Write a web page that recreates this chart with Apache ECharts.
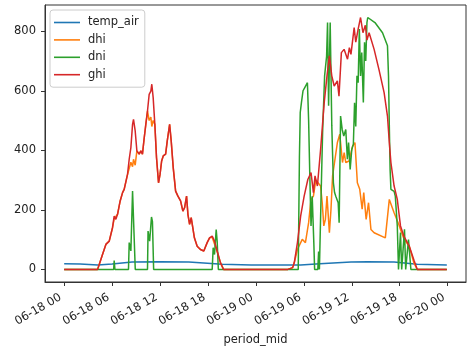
<!DOCTYPE html>
<html>
<head>
<meta charset="utf-8">
<script src="https://cdn.jsdelivr.net/npm/echarts@6/dist/echarts.min.js"></script>
<style>
html,body{margin:0;padding:0;background:#fff;}
#chart{width:474px;height:355px;}
</style>
</head>
<body>
<div id="chart"></div>
<script>
// hours since 06-18 00:00
const tickHours = [0, 6, 12, 18, 24, 30, 36, 42, 48];
const tickLabels = ["06-18 00","06-18 06","06-18 12","06-18 18","06-19 00","06-19 06","06-19 12","06-19 18","06-20 00"];
const yTicks = [0, 200, 400, 600, 800];
const seriesNames = ["temp_air", "dhi", "dni", "ghi"];

const tempAir = [[0,19],[2,18],[4.2,15],[6,18],[8.5,25],[12,26],[15.6,25],[19.8,17],[23.4,15],[27.7,15],[29.6,15],[32,19],[35.9,25],[38,26],[41.3,25],[44.2,17],[47.9,15]];

const ghi = [[0,0],[4.18,0],[4.3,6],[4.8,50],[5.22,84],[5.64,95],[6.05,140],[6.26,179],[6.47,168],[6.68,185],[7.01,230],[7.31,258],[7.51,269],[7.72,275],[7.93,319],[8.14,370],[8.35,409],[8.56,487],[8.68,504],[8.89,465],[9.1,398],[9.39,387],[9.6,398],[9.8,387],[10.0,437],[10.22,487],[10.43,532],[10.64,588],[10.85,599],[10.97,622],[11.14,577],[11.35,487],[11.56,375],[11.81,291],[12.0,319],[12.2,364],[12.4,381],[12.7,387],[12.9,431],[13.2,487],[13.4,431],[13.65,342],[13.95,263],[14.24,246],[14.57,230],[14.86,196],[15.07,207],[15.32,246],[15.49,185],[15.7,151],[15.9,174],[16.1,140],[16.3,106],[16.65,78],[17.06,67],[17.48,62],[17.9,90],[18.2,106],[18.53,112],[18.82,95],[19.15,62],[19.57,22],[19.95,0],[28.0,0],[28.6,6],[28.8,22],[29.2,90],[29.6,179],[30.04,246],[30.5,302],[30.9,325],[31.2,258],[31.4,314],[31.7,280],[32.1,403],[32.55,560],[32.9,650],[33.2,717],[33.5,650],[33.8,616],[34.2,633],[34.4,582],[34.7,728],[35.04,739],[35.47,706],[35.7,745],[35.9,722],[36.3,812],[36.5,763],[36.8,807],[37.1,846],[37.4,795],[37.7,820],[37.9,770],[38.17,795],[38.8,739],[39.4,672],[40.05,594],[40.47,515],[40.7,426],[40.9,359],[41.3,280],[41.7,235],[41.9,190],[42.1,146],[42.55,110],[43.2,78],[43.8,30],[44.2,0],[47.9,0]];

const dhi = [[0,0],[4.18,0],[4.3,6],[4.8,50],[5.22,84],[5.64,95],[6.05,140],[6.26,170],[6.47,168],[6.68,185],[7.01,230],[7.31,258],[7.51,269],[7.72,275],[7.93,319],[8.05,330],[8.14,325],[8.35,360],[8.56,345],[8.68,370],[8.89,350],[9.1,398],[9.39,387],[9.6,398],[9.8,387],[10.0,437],[10.22,487],[10.43,532],[10.64,500],[10.85,512],[10.97,480],[11.14,500],[11.35,487],[11.56,375],[11.81,291],[12.0,319],[12.2,364],[12.4,381],[12.7,387],[12.9,431],[13.2,487],[13.4,431],[13.65,342],[13.95,263],[14.24,246],[14.57,230],[14.86,196],[15.07,207],[15.32,246],[15.49,185],[15.7,151],[15.9,174],[16.1,140],[16.3,106],[16.65,78],[17.06,67],[17.48,62],[17.9,90],[18.2,106],[18.53,108],[18.82,85],[19.15,60],[19.57,22],[19.95,0],[28.0,0],[28.6,6],[28.8,22],[29.2,67],[29.4,67],[29.8,101],[30.2,90],[30.6,157],[30.9,235],[31.2,246],[31.5,300],[31.8,290],[32.1,280],[32.3,224],[32.5,146],[32.7,168],[32.9,246],[33.2,123],[33.4,202],[33.6,314],[33.9,370],[34.2,426],[34.5,454],[34.84,359],[35.05,392],[35.25,359],[35.67,364],[36.1,414],[36.4,426],[36.7,291],[37.0,269],[37.3,202],[37.5,258],[37.8,168],[38.1,224],[38.4,134],[38.8,123],[40.2,106],[40.7,235],[41.3,190],[41.9,150],[42.1,134],[42.55,101],[43.2,78],[43.8,20],[44.2,0],[47.9,0]];

const dni = [[0,0],[6.2,0],[6.26,30],[6.35,0],[8.05,0],[8.14,90],[8.35,62],[8.56,263],[8.77,263],[8.9,0],[10.43,0],[10.5,129],[10.7,95],[10.93,176],[11.05,160],[11.2,0],[18.53,0],[18.65,73],[18.82,50],[19.03,134],[19.15,95],[19.3,0],[29.3,0],[29.45,380],[29.55,527],[29.7,560],[29.9,600],[30.1,610],[30.45,627],[30.6,500],[30.75,314],[30.9,146],[31.05,246],[31.25,90],[31.35,0],[31.75,0],[31.85,60],[31.95,0],[32.05,0],[32.15,235],[32.35,460],[32.6,650],[32.85,716],[32.97,829],[33.1,550],[33.3,829],[33.5,482],[33.7,291],[33.85,258],[34.0,246],[34.2,246],[34.3,224],[34.42,157],[34.6,515],[34.8,470],[35.0,448],[35.25,470],[35.45,370],[35.6,426],[35.8,336],[36.0,403],[36.2,420],[36.35,560],[36.5,480],[36.65,650],[36.8,627],[36.95,807],[37.1,650],[37.25,728],[37.45,561],[37.6,763],[37.75,700],[37.9,829],[38.0,846],[38.9,829],[39.85,795],[40.47,751],[40.6,650],[40.7,482],[40.8,336],[40.9,269],[41.3,262],[41.45,246],[41.7,146],[41.85,0],[42.0,0],[42.1,124],[42.25,0],[42.5,0],[42.6,135],[42.75,0],[43.0,0],[43.1,100],[43.4,0],[47.9,0]];

const colors = ["#1f77b4", "#ff7f0e", "#2ca02c", "#d62728"];
const seriesData = [tempAir, dhi, dni, ghi];

const chart = echarts.init(document.getElementById('chart'), null, {renderer: 'canvas'});
const txt = '#222';
const font = 'DejaVu Sans';
const fs = 11.5;

chart.setOption({
  animation: false,
  color: colors,
  textStyle: {fontFamily: font},
  grid: {left: 45, right: 8, top: 5, bottom: 73, show: true, borderColor: '#333', borderWidth: 1, backgroundColor: 'transparent'},
  legend: {
    data: seriesNames.map(function (n) { return {name: n, icon: 'rect'}; }),
    orient: 'vertical',
    left: 50, top: 10,
    itemWidth: 26, itemHeight: 1.6, itemGap: 4.4,
    padding: [6, 6, 6, 4],
    backgroundColor: 'rgba(255,255,255,0.8)',
    borderColor: '#cccccc', borderWidth: 1, borderRadius: 3,
    textStyle: {fontFamily: font, fontSize: fs, color: txt, lineHeight: 13, padding: [0,0,0,3]}
  },
  xAxis: {
    type: 'value', min: -2.4, max: 50.3,
    splitLine: {show: false},
    axisLine: {show: true, onZero: false, lineStyle: {color: '#333', width: 1}},
    axisTick: {show: true, length: 4, lineStyle: {color: '#333'}, customValues: tickHours},
    axisLabel: {
      customValues: tickHours, rotate: 30, margin: 12.5, fontSize: fs, color: txt, fontFamily: font,
      padding: [0, 4, 0, 0],
      formatter: function (v) { const i = tickHours.indexOf(Math.round(v)); return i >= 0 ? tickLabels[i] : ''; }
    },
    name: 'period_mid', nameLocation: 'middle', nameGap: 51,
    nameTextStyle: {fontSize: fs, color: txt, fontFamily: font}
  },
  yAxis: {
    type: 'value', min: -42.3, max: 888,
    splitLine: {show: false},
    axisLine: {show: true, onZero: false, lineStyle: {color: '#333', width: 1}},
    axisTick: {show: true, length: 4, lineStyle: {color: '#333'}, customValues: yTicks},
    axisLabel: {customValues: yTicks, margin: 9, fontSize: fs, color: txt, fontFamily: font}
  },
  series: seriesNames.map(function (n, i) {
    return {
      name: n, type: 'line', data: seriesData[i], showSymbol: false, symbol: 'none',
      lineStyle: {width: 1.5, color: colors[i]}, itemStyle: {color: colors[i]}
    };
  })
});
</script>
</body>
</html>
